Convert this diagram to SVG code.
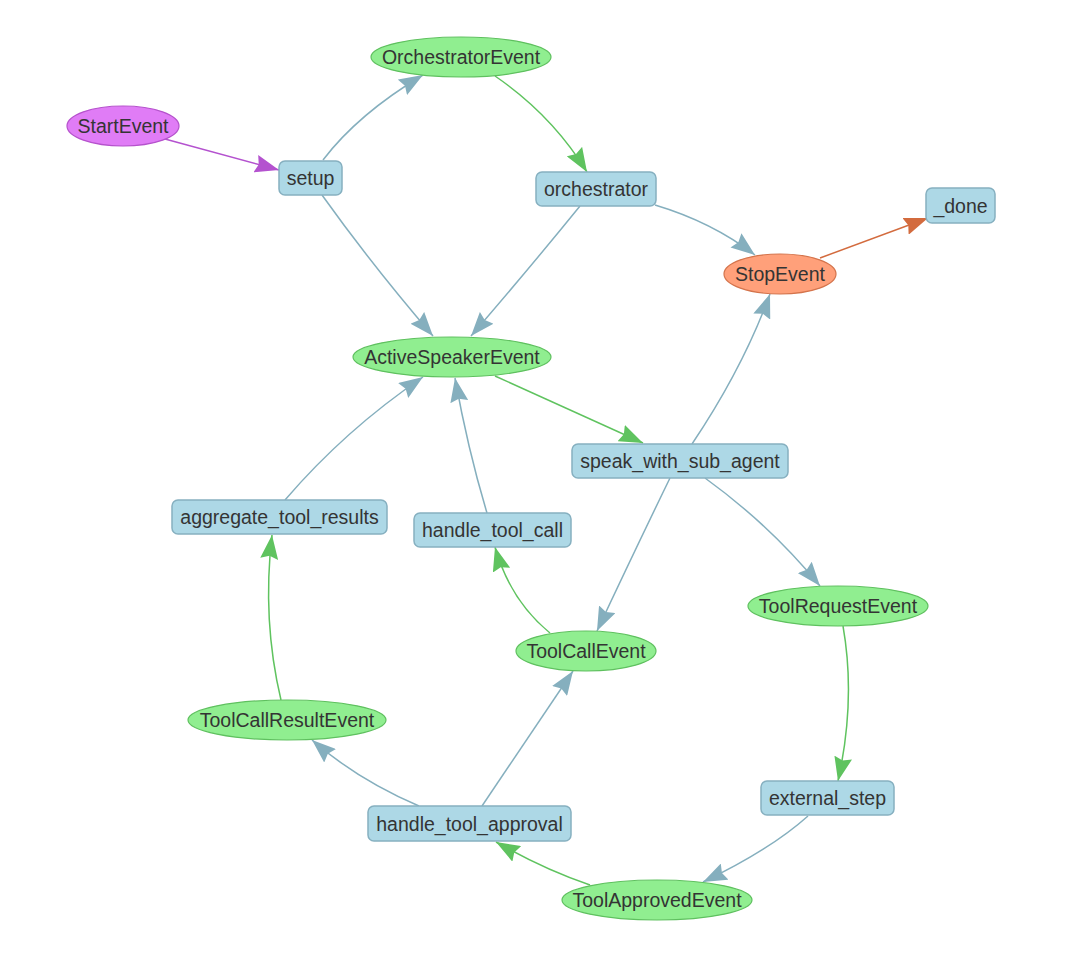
<svg xmlns="http://www.w3.org/2000/svg" width="1080" height="980" viewBox="0 0 1080 980">
<style>
text{font-family:"Liberation Sans",Arial,sans-serif;font-size:19.5px;fill:#343434;text-anchor:middle;dominant-baseline:central}
.step{fill:#add8e6;stroke:#86b0c0;stroke-width:1.5}
.ev{fill:#90ee90;stroke:#5fc05f;stroke-width:1.2}
.start{fill:#e07cf6;stroke:#b552cc;stroke-width:1.2}
.stop{fill:#ffa07a;stroke:#d4744c;stroke-width:1.2}
.e{fill:none;stroke-width:1.5}
.b{stroke:#85afbe;marker-end:url(#mb)}
.g{stroke:#5fc35f;marker-end:url(#mg)}
.m{stroke:#b452cf;marker-end:url(#mm)}
.o{stroke:#d36b3e;marker-end:url(#mo)}
</style>
<defs>
<marker id="mb" markerUnits="userSpaceOnUse" viewBox="0 0 24 18" markerWidth="24" markerHeight="18" refX="24" refY="9" orient="auto"><path d="M0,0 L24,9 L0,18 L3,9 z" fill="#85afbe"/></marker>
<marker id="mg" markerUnits="userSpaceOnUse" viewBox="0 0 24 18" markerWidth="24" markerHeight="18" refX="24" refY="9" orient="auto"><path d="M0,0 L24,9 L0,18 L3,9 z" fill="#5fc35f"/></marker>
<marker id="mm" markerUnits="userSpaceOnUse" viewBox="0 0 24 18" markerWidth="24" markerHeight="18" refX="24" refY="9" orient="auto"><path d="M0,0 L24,9 L0,18 L3,9 z" fill="#b452cf"/></marker>
<marker id="mo" markerUnits="userSpaceOnUse" viewBox="0 0 24 18" markerWidth="24" markerHeight="18" refX="24" refY="9" orient="auto"><path d="M0,0 L24,9 L0,18 L3,9 z" fill="#d36b3e"/></marker>
</defs>
<rect width="1080" height="980" fill="#ffffff"/>
<g id="connectors">
<path class="e m" d="M165,139 L279,170"/>
<path class="e b" d="M323,160 Q358,114 423,75"/>
<path class="e g" d="M495,76 Q552,115 587,172"/>
<path class="e b" d="M655,205 Q712,222 755,255"/>
<path class="e o" d="M820,258 L928,218"/>
<path class="e b" d="M322,195 Q372,265 433,336"/>
<path class="e b" d="M580,206 Q528,270 471,336"/>
<path class="e g" d="M495,376 L643,443"/>
<path class="e b" d="M692,444 Q743,368 770,294"/>
<path class="e b" d="M670,478 Q635,550 597,631"/>
<path class="e b" d="M705,478 Q770,525 820,586"/>
<path class="e g" d="M843,626 Q856,700 838,781"/>
<path class="e b" d="M808,816 Q770,850 703,882"/>
<path class="e g" d="M590,885 Q545,870 496,842"/>
<path class="e b" d="M419,806 Q358,780 312,740"/>
<path class="e b" d="M482,806 Q530,735 573,671"/>
<path class="e g" d="M281,700 Q262,620 272,535"/>
<path class="e g" d="M550,633 Q510,600 495,547"/>
<path class="e b" d="M487,513 Q468,450 455,378"/>
<path class="e b" d="M285,500 Q345,430 423,377"/>
</g>
<g id="StartEvent"><ellipse class="start" cx="123" cy="126" rx="56" ry="20"/><text x="123" y="126">StartEvent</text></g>
<g id="setup"><rect class="step" x="279" y="161" width="63" height="34" rx="6"/><text x="310.5" y="178">setup</text></g>
<g id="OrchestratorEvent"><ellipse class="ev" cx="461" cy="57" rx="90" ry="20"/><text x="461" y="57">OrchestratorEvent</text></g>
<g id="orchestrator"><rect class="step" x="536" y="172" width="120" height="34" rx="6"/><text x="596" y="189">orchestrator</text></g>
<g id="_done"><rect class="step" x="926" y="188" width="69" height="35" rx="6"/><text x="960.5" y="205.5">_done</text></g>
<g id="StopEvent"><ellipse class="stop" cx="780" cy="274" rx="56" ry="20"/><text x="780" y="274">StopEvent</text></g>
<g id="ActiveSpeakerEvent"><ellipse class="ev" cx="452" cy="357" rx="99" ry="20"/><text x="452" y="357">ActiveSpeakerEvent</text></g>
<g id="speak_with_sub_agent"><rect class="step" x="572" y="444" width="216" height="34" rx="6"/><text x="680" y="461">speak_with_sub_agent</text></g>
<g id="aggregate_tool_results"><rect class="step" x="172" y="500" width="215" height="34" rx="6"/><text x="279.5" y="517">aggregate_tool_results</text></g>
<g id="handle_tool_call"><rect class="step" x="414" y="513" width="157" height="34" rx="6"/><text x="492.5" y="530">handle_tool_call</text></g>
<g id="ToolRequestEvent"><ellipse class="ev" cx="838" cy="606" rx="90" ry="20"/><text x="838" y="606">ToolRequestEvent</text></g>
<g id="ToolCallEvent"><ellipse class="ev" cx="586" cy="651" rx="70" ry="20"/><text x="586" y="651">ToolCallEvent</text></g>
<g id="ToolCallResultEvent"><ellipse class="ev" cx="287" cy="720" rx="99" ry="20"/><text x="287" y="720">ToolCallResultEvent</text></g>
<g id="handle_tool_approval"><rect class="step" x="368" y="806" width="203" height="35" rx="6"/><text x="469.5" y="823.5">handle_tool_approval</text></g>
<g id="external_step"><rect class="step" x="761" y="781" width="133" height="34" rx="6"/><text x="827.5" y="798">external_step</text></g>
<g id="ToolApprovedEvent"><ellipse class="ev" cx="657" cy="900" rx="95" ry="20"/><text x="657" y="900">ToolApprovedEvent</text></g>
</svg>
